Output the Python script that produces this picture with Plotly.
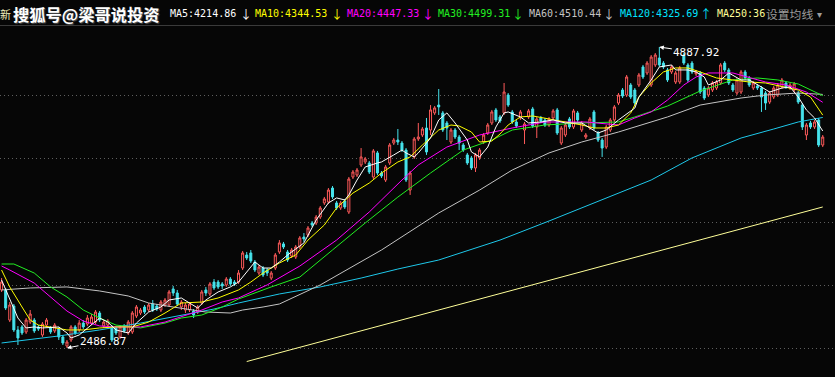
import plotly.graph_objects as go

# ---------------- data ----------------
OPEN = [2950,2950,2710,2822,2631,2655,2615,2694,2710,2655,
        2591,2670,2647,2623,2639,2575,2503,2551,2655,2631,
        2686,2678,2686,2694,2766,2662,2670,2655,2647,2575,
        2662,2607,2615,2742,2766,2814,2790,2838,2822,2790,
        2830,2830,2958,2926,2814,2790,2790,2782,2774,2846,
        2950,2918,3013,3013,2998,2990,3037,3013,3013,3125,
        3229,3245,3173,3085,3125,3109,3045,3125,3253,3317,
        3253,3221,3213,3293,3372,3388,3484,3484,3532,3644,
        3652,3763,3644,3604,3660,3572,3851,3867,3947,3971,
        3963,3851,4043,3883,3827,3963,4122,4146,4122,4066,
        3747,4011,4154,4186,4242,4226,4362,4425,4362,4282,
        4130,4226,4170,4106,4027,4003,3923,4003,4130,4202,
        4282,4386,4330,4362,4505,4370,4290,4322,4226,4330,
        4394,4250,4322,4306,4266,4322,4386,4122,4186,4314,
        4250,4362,4226,4170,4242,4370,4202,4146,4090,4226,
        4306,4441,4545,4505,4585,4545,4585,4729,4681,4585,
        4745,4800,4760,4705,4689,4609,4609,4824,4745,4760,
        4673,4681,4561,4505,4545,4561,4601,4760,4705,4585,
        4521,4529,4689,4641,4561,4577,4561,4521,4449,4489,
        4505,4569,4601,4561,4545,4521,4425,4186,4282,4250,
        4306,4106]
CLOSE = [3013,2806,2830,2631,2567,2607,2710,2758,2623,2639,
         2678,2710,2615,2670,2575,2527,2535,2655,2607,2686,
         2655,2726,2734,2774,2710,2694,2702,2551,2607,2655,
         2623,2694,2766,2814,2790,2774,2830,2790,2798,2854,
         2870,2934,2926,2838,2854,2830,2838,2750,2814,2934,
         2926,2998,2966,2974,2982,3037,2998,2998,3085,3245,
         3205,3181,3109,3133,3069,3085,3085,3229,3325,3293,
         3189,3269,3293,3365,3357,3444,3468,3532,3604,3676,
         3747,3692,3604,3644,3612,3835,3891,3907,4011,3995,
         3891,4059,3883,3859,3931,4106,4146,4130,4066,3827,
         3883,4154,4170,4234,4051,4386,4402,4410,4226,4242,
         4226,4170,4122,4066,3963,3923,4027,4066,4186,4266,
         4370,4306,4298,4529,4425,4290,4258,4370,4274,4378,
         4258,4314,4298,4266,4314,4378,4202,4242,4266,4250,
         4378,4306,4282,4186,4314,4242,4146,4082,4250,4306,
         4410,4505,4497,4649,4489,4441,4665,4649,4760,4808,
         4824,4745,4729,4625,4729,4681,4721,4760,4625,4689,
         4689,4529,4481,4561,4601,4609,4745,4705,4601,4545,
         4625,4689,4641,4585,4601,4561,4489,4441,4521,4561,
         4585,4625,4569,4585,4593,4449,4250,4266,4250,4290,
         4106,4170]
HIGH = [3045,2966,2854,2838,2662,2670,2726,2790,2726,2670,
        2694,2726,2662,2686,2655,2591,2551,2670,2670,2710,
        2710,2750,2758,2790,2782,2710,2718,2670,2662,2670,
        2678,2710,2782,2830,2806,2830,2846,2870,2838,2870,
        2886,2950,2982,2950,2870,2846,2854,2798,2830,2950,
        2974,3013,3037,3029,3013,3053,3053,3029,3109,3261,
        3253,3269,3189,3149,3141,3125,3101,3245,3348,3333,
        3269,3285,3309,3380,3404,3460,3500,3548,3620,3692,
        3763,3779,3660,3660,3676,3851,3907,3923,4082,4011,
        3979,4074,4059,3899,3947,4122,4162,4234,4138,4082,
        3899,4170,4282,4250,4322,4425,4417,4553,4378,4298,
        4242,4242,4186,4122,4043,4019,4043,4082,4202,4282,
        4386,4402,4346,4601,4521,4386,4306,4386,4290,4394,
        4410,4330,4338,4322,4330,4394,4402,4258,4282,4330,
        4394,4378,4298,4202,4330,4386,4218,4162,4266,4322,
        4425,4521,4561,4665,4601,4561,4681,4745,4776,4824,
        4840,4888,4776,4721,4745,4697,4737,4840,4760,4776,
        4705,4697,4577,4577,4617,4625,4760,4776,4721,4601,
        4641,4705,4705,4657,4617,4593,4577,4537,4537,4577,
        4601,4641,4617,4601,4609,4537,4441,4282,4298,4306,
        4322,4186]
LOW = [2934,2790,2694,2615,2511,2591,2599,2678,2607,2623,
       2575,2655,2599,2607,2551,2511,2487,2535,2591,2615,
       2639,2662,2670,2678,2694,2647,2655,2535,2591,2559,
       2607,2591,2599,2726,2750,2758,2774,2774,2782,2774,
       2814,2814,2902,2822,2790,2766,2774,2726,2758,2830,
       2902,2902,2950,2958,2958,2974,2982,2982,2998,3109,
       3189,3165,3093,3069,3053,3061,3029,3109,3237,3277,
       3173,3205,3197,3277,3333,3372,3452,3468,3516,3628,
       3636,3676,3588,3588,3596,3556,3835,3851,3931,3955,
       3875,3835,3867,3843,3811,3947,4106,4106,4051,3811,
       3708,3995,4138,4170,4027,4186,4346,4346,4210,4146,
       4114,4154,4066,4051,3947,3907,3891,3987,4114,4186,
       4266,4290,4282,4346,4410,4274,4242,4306,4114,4314,
       4242,4162,4282,4250,4250,4306,4186,4106,4170,4234,
       4234,4290,4210,4154,4226,4226,4130,4011,4074,4210,
       4290,4425,4481,4489,4473,4425,4569,4633,4665,4569,
       4729,4729,4713,4609,4673,4593,4593,4745,4609,4673,
       4657,4513,4465,4489,4529,4545,4585,4689,4585,4529,
       4505,4513,4625,4569,4545,4545,4370,4386,4433,4473,
       4489,4553,4553,4545,4529,4433,4226,4146,4234,4234,
       4090,4090]

# moving-average lines, sampled along the candle index
MA5_IDX = [0,2,4,6,8,10,14,16,17,19,22,24,26,28,31,33,36,39,41,44,46,48,50,53,56,58,61,62,64,66,
           68,70,74,77,80,82,84,85,87,89,92,93,96,98,99,101,102,105,107,109,111,114,115,117,119,121,
           123,124,127,129,132,135,138,142,144,146,148,150,151,155,156,159,161,164,165,168,170,172,
           173,176,178,181,183,186,188,191,193,195,197,199,201]
MA5_VAL = [3029,2870,2726,2647,2655,2647,2655,2607,2567,2591,2670,2726,2694,2631,2607,2686,2774,2814,
           2870,2886,2846,2806,2870,2934,2974,3013,3133,3173,3125,3125,3173,3229,3325,3508,3644,3684,
           3668,3708,3827,3931,3963,3971,4027,4066,4043,4011,4043,4162,4306,4362,4282,4146,4051,4011,
           4090,4250,4362,4370,4330,4282,4290,4306,4282,4282,4242,4202,4226,4282,4306,4401,4489,4625,
           4729,4745,4705,4705,4689,4649,4585,4625,4681,4625,4625,4569,4529,4561,4569,4489,4386,4322,
           4218]
MA10_IDX = [0,2,5,7,9,12,16,20,24,28,32,36,40,44,49,53,58,61,64,68,72,75,79,82,86,90,93,97,100,103,
            107,110,112,115,117,120,122,124,127,130,133,138,142,145,148,151,154,156,159,162,165,168,
            171,175,179,183,187,192,195,198,201]
MA10_VAL = [3109,2974,2814,2710,2670,2655,2631,2631,2647,2655,2655,2694,2766,2846,2854,2886,2950,3013,
            3085,3165,3229,3348,3468,3604,3723,3803,3883,3971,4011,4106,4226,4266,4258,4210,4130,4138,
            4194,4266,4330,4338,4322,4290,4266,4242,4242,4266,4362,4489,4601,4689,4721,4721,4689,4641,
            4625,4609,4601,4569,4545,4489,4345]
MA20_IDX = [0,2,8,12,16,20,24,28,34,40,49,54,58,65,73,82,90,98,102,109,117,125,133,143,151,155,159,
            163,167,170,173,179,187,192,197,201]
MA20_VAL = [3141,3109,3005,2894,2782,2702,2663,2655,2655,2694,2790,2854,2886,2990,3141,3348,3572,3827,
            3947,4090,4186,4242,4290,4290,4266,4322,4370,4465,4585,4649,4681,4681,4609,4585,4529,4447]
MA30_IDX = [0,3,8,12,16,20,24,28,34,40,44,49,54,58,66,73,81,89,97,105,113,120,125,133,142,151,155,
            163,171,179,185,190,195,201]
MA30_VAL = [3157,3157,3085,2974,2894,2790,2726,2670,2647,2686,2726,2750,2814,2878,2974,3053,3269,3484,
            3691,3883,4066,4146,4226,4266,4282,4290,4330,4417,4537,4625,4641,4625,4593,4500]
MA60_IDX = [0,7,16,24,31,36,42,50,56,59,64,68,78,93,107,117,125,134,142,151,163,171,181,187,195,201]
MA60_VAL = [2950,2966,2974,2942,2902,2846,2814,2774,2766,2790,2814,2838,2990,3269,3564,3747,3907,4043,
            4130,4210,4330,4425,4481,4505,4521,4510]
MA120_IDX = [0,14,24,34,52,58,68,78,88,97,107,122,134,148,159,169,181,189,195,201]
MA120_VAL = [2527,2583,2631,2686,2798,2846,2918,2974,3045,3117,3189,3348,3500,3684,3827,4003,4162,4234,
             4290,4326]
MA250_IDX = [60,90,120,150,180,201]
MA250_VAL = [2379,2642,2904,3166,3428,3612]

GRID_PRICES = [2487, 2982, 3492, 3995, 4505]

HEADER_TEXTS = ["MA5:4214.86", "MA10:4344.53", "MA20:4447.33",
                "MA30:4499.31", "MA60:4510.44", "MA120:4325.69", "MA250:36"]
HEADER_ARROWS = ["↓", "↓", "↓", "↓", "↓", "↑"]
HIGH_LABEL = "4887.92"
LOW_LABEL = "2486.87"
WATERMARK = "搜狐号@梁哥说投资"

# ---------------- style ----------------
W, H = 835, 377
BG = "#060606"
RED = "#FF5B5B"
CYAN = "#46E3EC"
C_MA5, C_MA10, C_MA20, C_MA30 = "#FFFFFF", "#FFFF00", "#FF00FF", "#22F022"
C_MA60, C_MA120, C_MA250 = "#C4C4C4", "#1EC8EA", "#FFFF99"
Y_RANGE = [2255.7, 5263.0]
X_RANGE = [-0.39, 204.0]

N = len(OPEN)
assert N == len(CLOSE) == len(HIGH) == len(LOW)
IDX = list(range(N))

fig = go.Figure()
fig.add_trace(go.Candlestick(
    x=IDX, open=OPEN, high=HIGH, low=LOW, close=CLOSE,
    increasing=dict(line=dict(color=RED, width=1), fillcolor="#000000"),
    decreasing=dict(line=dict(color=CYAN, width=1), fillcolor=CYAN),
    whiskerwidth=0, showlegend=False, hoverinfo="skip"))

for xs, ys, col in [(MA250_IDX, MA250_VAL, C_MA250), (MA120_IDX, MA120_VAL, C_MA120),
                    (MA60_IDX, MA60_VAL, C_MA60), (MA30_IDX, MA30_VAL, C_MA30),
                    (MA20_IDX, MA20_VAL, C_MA20), (MA10_IDX, MA10_VAL, C_MA10),
                    (MA5_IDX, MA5_VAL, C_MA5)]:
    assert len(xs) == len(ys)
    fig.add_trace(go.Scatter(x=xs, y=ys, mode="lines", line=dict(color=col, width=1),
                             showlegend=False, hoverinfo="skip"))

ann = []
def px(xp):
    return xp / W
def py(yp):
    return 1 - yp / H

hdr_x = [168, 253, 345, 436, 527, 618, 715]
hdr_c = [C_MA5, C_MA10, C_MA20, C_MA30, C_MA60, "#00E5FF", C_MA250]
for t, xp, c in zip(HEADER_TEXTS, hdr_x, hdr_c):
    ann.append(dict(text=t, x=px(xp), y=py(13.5), xref="paper", yref="paper",
                    xanchor="left", yanchor="middle", showarrow=False,
                    font=dict(family="DejaVu Sans Mono", size=10, color=c)))
arr_x = [245.5, 336.5, 427.5, 518, 608.5, 705.5]
for t, xp, c in zip(HEADER_ARROWS, arr_x, hdr_c):
    ann.append(dict(text=t, x=px(xp), y=py(13.5), xref="paper", yref="paper",
                    xanchor="center", yanchor="middle", showarrow=False,
                    font=dict(family="Noto Sans CJK SC", size=12, color=c)))
ann.append(dict(text="设置均线", x=px(764), y=py(13.5), xref="paper", yref="paper",
                xanchor="left", yanchor="middle", showarrow=False,
                font=dict(family="Noto Sans CJK SC", size=11.8, color="#9C9C9C")))
ann.append(dict(text="▾", x=px(815), y=py(14), xref="paper", yref="paper",
                xanchor="left", yanchor="middle", showarrow=False,
                font=dict(family="DejaVu Sans", size=10, color="#9C9C9C")))
ann.append(dict(text="新", x=px(-2), y=py(14), xref="paper", yref="paper",
                xanchor="left", yanchor="middle", showarrow=False,
                font=dict(family="Noto Sans CJK SC", size=11, color="#EEEEBB")))
ann.append(dict(text=WATERMARK, x=px(11), y=py(14), xref="paper", yref="paper",
                xanchor="left", yanchor="middle", showarrow=False,
                font=dict(family="Noto Sans CJK SC", size=16.3, color="#FFFFFF",
                          weight="bold", shadow="1px 1px 1px #555555")))

hi_i = max(IDX, key=lambda i: HIGH[i])
lo_i = min(IDX, key=lambda i: LOW[i])
ann.append(dict(text=HIGH_LABEL, x=hi_i, y=HIGH[hi_i], xref="x", yref="y",
                showarrow=True, ax=37, ay=5.5, arrowcolor="#FFFFFF", arrowhead=2,
                arrowsize=0.9, arrowwidth=1, standoff=0,
                font=dict(family="DejaVu Sans Mono", size=11, color="#FFFFFF")))
ann.append(dict(text=LOW_LABEL, x=lo_i, y=LOW[lo_i], xref="x", yref="y",
                showarrow=True, ax=36, ay=-7, arrowcolor="#FFFFFF", arrowhead=2,
                arrowsize=0.9, arrowwidth=1, standoff=0,
                font=dict(family="DejaVu Sans Mono", size=11, color="#FFFFFF")))

fig.update_layout(
    width=W, height=H, margin=dict(l=0, r=0, t=0, b=0, pad=0),
    paper_bgcolor=BG, plot_bgcolor=BG, showlegend=False,
    annotations=ann,
    shapes=[dict(type="line", xref="paper", yref="paper", x0=0, x1=1,
                 y0=py(25.5), y1=py(25.5), line=dict(color="#3A3A3A", width=1))],
    xaxis=dict(range=X_RANGE, visible=False, showgrid=False, zeroline=False,
               rangeslider=dict(visible=False), fixedrange=True),
    yaxis=dict(range=Y_RANGE, tickvals=GRID_PRICES, showticklabels=False, ticks="",
               showgrid=True, gridcolor="#5E5E5E", griddash="1px,3px", gridwidth=1,
               zeroline=False, showline=False, fixedrange=True),
)

fig.write_html("out.html")
